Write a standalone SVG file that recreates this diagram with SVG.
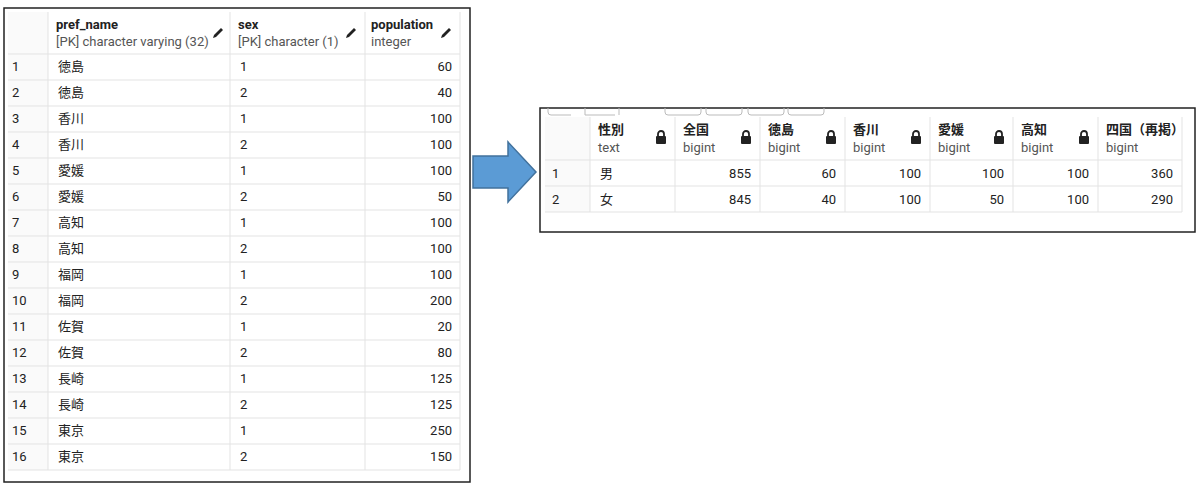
<svg xmlns="http://www.w3.org/2000/svg" width="1200" height="487" viewBox="0 0 1200 487">
<style>
text{font-family:Roboto,"Noto Sans CJK JP",sans-serif;font-size:13px;fill:#222}
.h{font-weight:bold}
.s{fill:#555}
.r{text-anchor:end}
.g{stroke:#e3e3e3;stroke-width:1;fill:none}
.frame{fill:#fff;stroke:#222;stroke-width:1.5}
</style>
<defs>
<path id="pen" d="M0 10 L1 7 L8 0 L10 2 L3 9 Z" fill="#222"/>
<g id="lock"><rect x="0" y="5" width="10" height="8" rx="1" fill="#222"/><path d="M2 5 V3 A3 3 0 0 1 8 3 V5" fill="none" stroke="#222" stroke-width="1.8"/></g>
</defs>
<rect width="1200" height="487" fill="#fff"/>
<g id="left-table">
<rect class="frame" x="4" y="8" width="466" height="474"/>
<rect x="8" y="12" width="40" height="458" fill="#fafafa"/>
<path class="g" d="M48 12 V470 M230 12 V470 M365 12 V470 M460 12 V470 M8 470 H460"/>
<text class="h" x="56" y="29">pref_name</text><text class="s" x="56" y="46">[PK] character varying (32)</text><use href="#pen" x="213" y="28"/>
<text class="h" x="238" y="29">sex</text><text class="s" x="238" y="46">[PK] character (1)</text><use href="#pen" x="346" y="28"/>
<text class="h" x="371" y="29">population</text><text class="s" x="371" y="46">integer</text><use href="#pen" x="441" y="28"/>
<g id="rows">
<path class="g" d="M8 54H460M8 80H460M8 106H460M8 132H460M8 158H460M8 184H460M8 210H460M8 236H460M8 262H460M8 288H460M8 314H460M8 340H460M8 366H460M8 392H460M8 418H460M8 444H460"/>
<text x="12" y="71">1</text><text x="58" y="71">徳島</text><text x="240" y="71">1</text><text class="r" x="452" y="71">60</text>
<text x="12" y="97">2</text><text x="58" y="97">徳島</text><text x="240" y="97">2</text><text class="r" x="452" y="97">40</text>
<text x="12" y="123">3</text><text x="58" y="123">香川</text><text x="240" y="123">1</text><text class="r" x="452" y="123">100</text>
<text x="12" y="149">4</text><text x="58" y="149">香川</text><text x="240" y="149">2</text><text class="r" x="452" y="149">100</text>
<text x="12" y="175">5</text><text x="58" y="175">愛媛</text><text x="240" y="175">1</text><text class="r" x="452" y="175">100</text>
<text x="12" y="201">6</text><text x="58" y="201">愛媛</text><text x="240" y="201">2</text><text class="r" x="452" y="201">50</text>
<text x="12" y="227">7</text><text x="58" y="227">高知</text><text x="240" y="227">1</text><text class="r" x="452" y="227">100</text>
<text x="12" y="253">8</text><text x="58" y="253">高知</text><text x="240" y="253">2</text><text class="r" x="452" y="253">100</text>
<text x="12" y="279">9</text><text x="58" y="279">福岡</text><text x="240" y="279">1</text><text class="r" x="452" y="279">100</text>
<text x="12" y="305">10</text><text x="58" y="305">福岡</text><text x="240" y="305">2</text><text class="r" x="452" y="305">200</text>
<text x="12" y="331">11</text><text x="58" y="331">佐賀</text><text x="240" y="331">1</text><text class="r" x="452" y="331">20</text>
<text x="12" y="357">12</text><text x="58" y="357">佐賀</text><text x="240" y="357">2</text><text class="r" x="452" y="357">80</text>
<text x="12" y="383">13</text><text x="58" y="383">長崎</text><text x="240" y="383">1</text><text class="r" x="452" y="383">125</text>
<text x="12" y="409">14</text><text x="58" y="409">長崎</text><text x="240" y="409">2</text><text class="r" x="452" y="409">125</text>
<text x="12" y="435">15</text><text x="58" y="435">東京</text><text x="240" y="435">1</text><text class="r" x="452" y="435">250</text>
<text x="12" y="461">16</text><text x="58" y="461">東京</text><text x="240" y="461">2</text><text class="r" x="452" y="461">150</text>
</g>
</g>
<g id="connectors">
<path d="M473 156 H508 V142 L536 172 L508 202 V188 H473 Z" fill="#5b9bd5" stroke="#41719c" stroke-width="1.5"/>
</g>
<g id="right-table">
<rect class="frame" x="540" y="108" width="655" height="124"/>
<path d="M548 108 v4 a3 3 0 0 0 3 3 h20 M585 108 v7 h30 M619 108 v7 M665 108 v4 a3 3 0 0 0 3 3 h30 a3 3 0 0 0 3-3 v-4 M706 108 v4 a3 3 0 0 0 3 3 h30 a3 3 0 0 0 3-3 v-4 M748 108 v4 a3 3 0 0 0 3 3 h30 a3 3 0 0 0 3-3 v-4 M788 108 v4 a3 3 0 0 0 3 3 h30 a3 3 0 0 0 3-3 v-4" fill="none" stroke="#bbb"/>
<rect x="545" y="117" width="45" height="95" fill="#fafafa"/>
<path class="g" d="M590 117V212M675 117V212M760 117V212M845 117V212M930 117V212M1013 117V212M1098 117V212M1182 117V212M545 160H1182M545 186H1182M545 212H1182"/>
<text class="h" x="598" y="134">性別</text><text class="s" x="598" y="152">text</text><use href="#lock" x="656" y="131"/>
<text class="h" x="683" y="134">全国</text><text class="s" x="683" y="152">bigint</text><use href="#lock" x="741" y="131"/>
<text class="h" x="768" y="134">徳島</text><text class="s" x="768" y="152">bigint</text><use href="#lock" x="826" y="131"/>
<text class="h" x="853" y="134">香川</text><text class="s" x="853" y="152">bigint</text><use href="#lock" x="911" y="131"/>
<text class="h" x="938" y="134">愛媛</text><text class="s" x="938" y="152">bigint</text><use href="#lock" x="994" y="131"/>
<text class="h" x="1021" y="134">高知</text><text class="s" x="1021" y="152">bigint</text><use href="#lock" x="1079" y="131"/>
<text class="h" x="1106" y="134">四国（再掲）</text><text class="s" x="1106" y="152">bigint</text>
<text x="552" y="178">1</text><text x="600" y="178">男</text><text class="r" x="751" y="178">855</text><text class="r" x="836" y="178">60</text><text class="r" x="921" y="178">100</text><text class="r" x="1004" y="178">100</text><text class="r" x="1089" y="178">100</text><text class="r" x="1173" y="178">360</text>
<text x="552" y="204">2</text><text x="600" y="204">女</text><text class="r" x="751" y="204">845</text><text class="r" x="836" y="204">40</text><text class="r" x="921" y="204">100</text><text class="r" x="1004" y="204">50</text><text class="r" x="1089" y="204">100</text><text class="r" x="1173" y="204">290</text>
</g>
</svg>
